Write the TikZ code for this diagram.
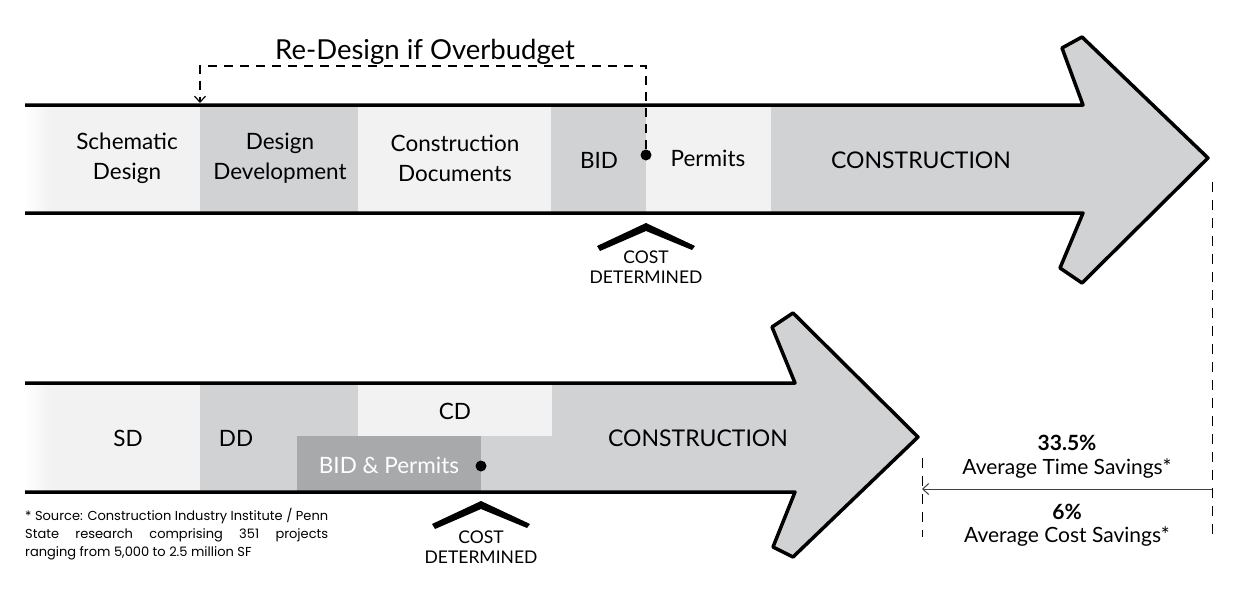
\documentclass[tikz,border=0pt]{standalone}
\usepackage{fontspec}
\setmainfont{Lato}
\newfontfamily\notefont{Poppins}
\usepackage{xcolor}
\usetikzlibrary{arrows.meta,positioning}

\definecolor{paleband}{HTML}{F2F2F2}
\definecolor{midband}{HTML}{D1D2D4}
\definecolor{bidband}{HTML}{A7A9AB}

\begin{document}
\begin{tikzpicture}[x=1pt, y=-1pt, >={Straight Barb[length=6pt,width=11pt]}]
    % Styles
    \tikzstyle{stage} = [font=\fontsize{22.5}{30}\selectfont, align=center, inner sep=0pt]
    \tikzstyle{bigstage} = [font=\fontsize{23}{26}\selectfont, inner sep=0pt]
    \tikzstyle{costnote} = [font=\fontsize{17.5}{20}\selectfont, align=center, inner sep=0pt]
    \tikzstyle{savings} = [font=\fontsize{21}{24}\selectfont, inner sep=0pt]
    \tikzstyle{pct} = [font=\bfseries\fontsize{21}{24}\selectfont, inner sep=0pt]
    \tikzstyle{outline} = [draw, line width=3.5pt, line join=round]
    \tikzstyle{dot} = [circle, fill=black, inner sep=0pt, minimum size=11pt]
    \tikzstyle{redo} = [draw, ->, line width=1.2pt, dash pattern=on 9pt off 7pt]
    \tikzstyle{guide} = [draw, line width=1pt, dash pattern=on 10pt off 8pt]
    \tikzstyle{span} = [draw, ->, line width=1pt, black!75]
    \tikzstyle{roof} = [fill=black]

    \useasboundingbox (0,0) rectangle (1244,605);

    % Top arrow (traditional)
    \fill[midband] (25,105) -- (1083,105) -- (1062,48) -- (1082,37) -- (1208,158)
        -- (1082,283) -- (1060,268) -- (1083,213) -- (25,213) -- cycle;
    \fill[paleband] (25,105) rectangle (200,213);
    \fill[paleband] (358,105) rectangle (551,213);
    \fill[paleband] (646,105) rectangle (771,213);
    \shade[left color=white, right color=paleband] (25,105) rectangle (50,213);
    \path[outline] (25,105) -- (1083,105) -- (1062,48) -- (1082,37) -- (1208,158)
        -- (1082,283) -- (1060,268) -- (1083,213) -- (25,213);

    % Bottom arrow (design-build)
    \fill[midband] (25,383) -- (795,383) -- (772,327) -- (793,313) -- (918,437)
        -- (793,557) -- (773,547) -- (795,492) -- (25,492) -- cycle;
    \fill[paleband] (25,383) rectangle (200,492);
    \fill[paleband] (358,383) rectangle (552,436);
    \fill[bidband] (297,436) rectangle (481,492);
    \shade[left color=white, right color=paleband] (25,383) rectangle (50,492);
    \path[outline] (25,383) -- (795,383) -- (772,327) -- (793,313) -- (918,437)
        -- (793,557) -- (773,547) -- (795,492) -- (25,492);

    % Cost roofs
    \path[roof] (597,246) -- (646,223) -- (695,246) -- (692,250) -- (646,231) -- (600,251) -- cycle;
    \path[roof] (432,524) -- (481,501) -- (530,524) -- (527,528) -- (481,509) -- (435,529) -- cycle;

    % Nodes
    \node [stage] (sd) at (127,158) {Schematic\\Design};
    \node [stage] (dd) at (280,158) {Design\\Development};
    \node [stage] (cd) at (455,158) {Construction\\Documents};
    \node [stage] (bid) at (599,160) {BID};
    \node [stage] (permits) at (708,158) {Permits};
    \node [bigstage] (build) at (921,160) {CONSTRUCTION};
    \node [dot] (bidcost) at (646,155) {};
    \node [costnote] (topcost) at (646,267) {COST\\DETERMINED};
    \node [font=\fontsize{27.5}{30}\selectfont, anchor=south, inner sep=1pt] (redesign) at (425,66) {Re-Design if Overbudget};
    \coordinate (ddtop) at (200,103);

    \node [stage] (dbsd) at (128,438) {SD};
    \node [stage] (dbdd) at (236,438) {DD};
    \node [stage] (dbcd) at (455,411) {CD};
    \node [stage, text=white] (dbbid) at (389,465) {BID \& Permits};
    \node [bigstage] (dbbuild) at (698,438) {CONSTRUCTION};
    \node [dot] (dbcost) at (481,466) {};
    \node [costnote] (botcost) at (481,547) {COST\\DETERMINED};

    \coordinate (timeR) at (1212,182);
    \coordinate (timeRend) at (1212,537);
    \coordinate (timeL) at (922,458);
    \coordinate (timeLend) at (922,537);
    \coordinate (spanR) at (1212,489);
    \coordinate (spanL) at (922,489);
    \node [pct] (timepct) at (1067,443) {33.5\%};
    \node [savings, below=8pt of timepct] (timetxt) {Average Time Savings*};
    \node [pct] (costpct) at (1067,512) {6\%};
    \node [savings, below=7pt of costpct] (costtxt) {Average Cost Savings*};

    \node [anchor=north west, align=left, inner sep=0pt,
        font=\notefont\fontsize{13}{18}\selectfont] (source) at (25,508)
        {\makebox[303pt][s]{* Source: Construction Industry Institute / Penn}\\
         \makebox[303pt][s]{State research comprising 351 projects}\\
         ranging from 5,000 to 2.5 million SF};

    % Paths
    \path [redo] (bidcost.north) |- (redesign.south) -| (ddtop);
    \path [guide] (timeR) -- (timeRend);
    \path [guide] (timeL) -- (timeLend);
    \path [span] (spanR) -- (spanL);
\end{tikzpicture}
\end{document}
